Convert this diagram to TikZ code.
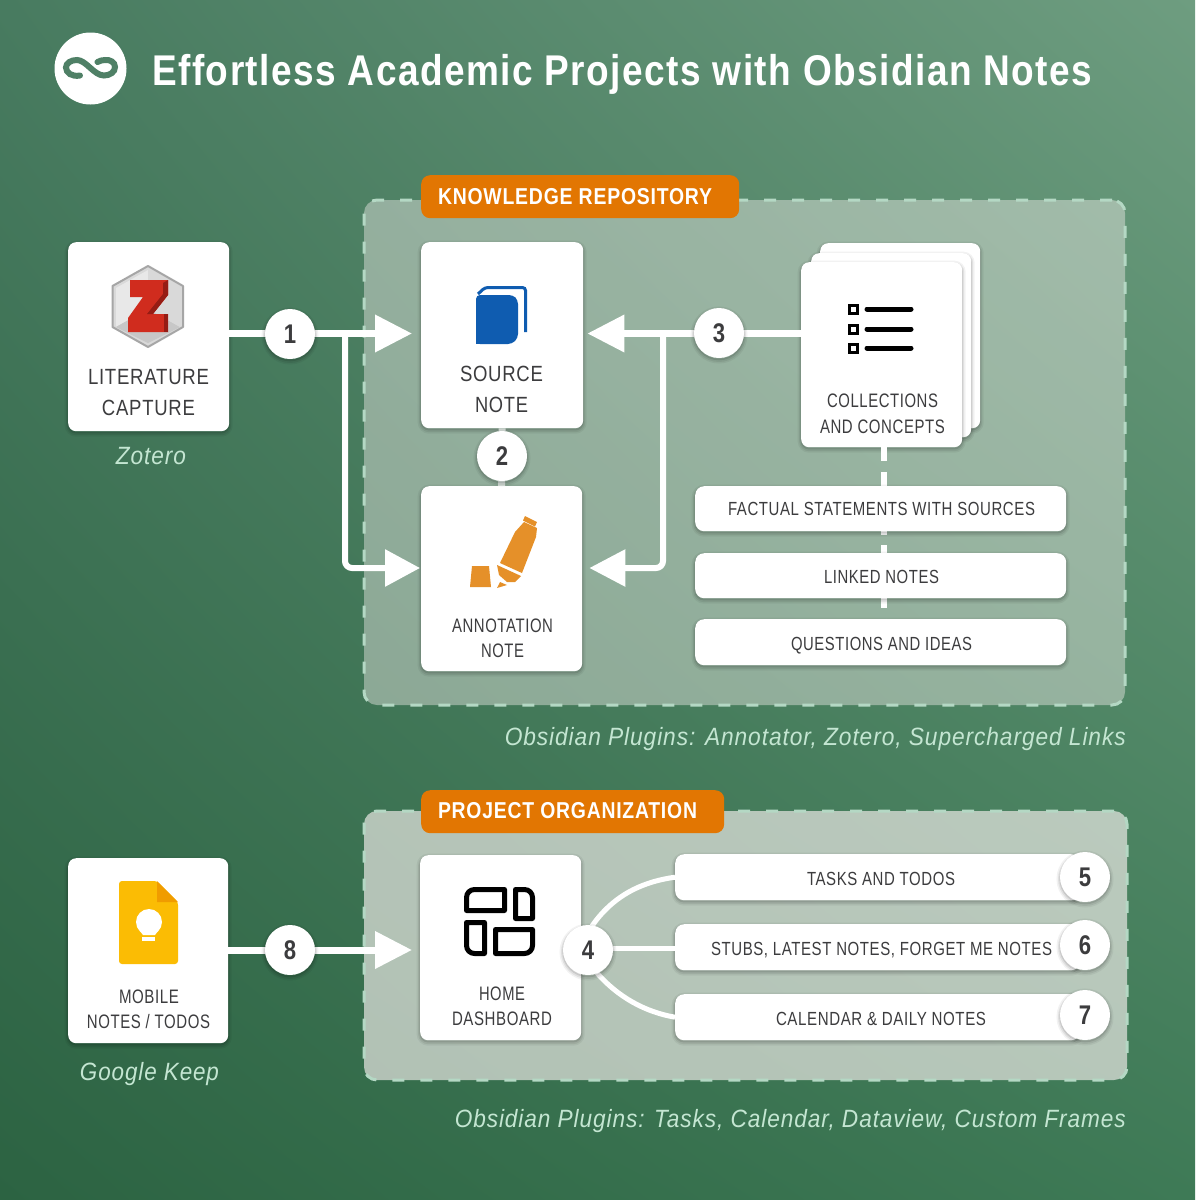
\documentclass[tikz,border=0pt]{standalone}
\usepackage{fontspec}
\setmainfont{Liberation Sans}
\usetikzlibrary{arrows.meta,shadings}
\definecolor{txt}{HTML}{3C3C3E}
\definecolor{mint}{HTML}{C4E6D2}
\definecolor{dash}{HTML}{B4D8C4}
\definecolor{hdr}{HTML}{E27602}
\definecolor{hl}{HTML}{E59029}
\definecolor{bookb}{HTML}{0F5CB0}
\definecolor{logoc}{HTML}{4F8066}
\definecolor{bgll}{RGB}{44,99,66}
\definecolor{bglr}{RGB}{62,122,86}
\definecolor{bgul}{RGB}{72,123,96}
\definecolor{bgur}{RGB}{110,157,128}
\definecolor{zred}{RGB}{208,44,30}
\definecolor{zdark}{RGB}{150,28,20}
\definecolor{kyel}{RGB}{251,188,4}
\definecolor{kdark}{RGB}{240,156,0}
\definecolor{panelw}{HTML}{FFF6F6}
\newcommand{\fitw}[3]{\fontsize{#2}{#2}\selectfont\addfontfeature{LetterSpace=4}\resizebox{#1pt}{\height}{#3}}
\tikzset{
  softsh/.style={
    preaction={draw=black,draw opacity=.05,line width=7pt,transform canvas={yshift=-2pt}},
    preaction={draw=black,draw opacity=.07,line width=4pt,transform canvas={yshift=-2pt}},
    preaction={draw=black,draw opacity=.10,line width=1.5pt,transform canvas={yshift=-1.5pt}}},
  card/.style={anchor=north west,fill=white,rounded corners=8pt,inner sep=0pt,softsh},
  bar/.style={card,rounded corners=9pt},
  panel/.style={anchor=north west,inner sep=0pt,outer sep=0pt,rounded corners=13pt,fill=panelw,draw=dash,line width=3pt,dash pattern=on 12pt off 16pt},
  head/.style={anchor=north west,inner sep=0pt,rounded corners=9pt,fill=hdr},
  lab/.style={anchor=base,inner sep=0pt,text=txt},
  hlab/.style={anchor=base,inner sep=0pt,text=white,font=\bfseries},
  note/.style={anchor=base,inner sep=0pt,text=mint,font=\itshape},
  num/.style={circle,fill=white,minimum size=50pt,inner sep=0pt,text=txt,font=\fontsize{27}{27}\selectfont\bfseries,softsh},
  flow/.style={draw=white,line width=7pt,
    preaction={draw=black,draw opacity=.18,transform canvas={yshift=-2pt}}},
  branch/.style={flow,line width=6pt,rounded corners=7pt},
  tipped/.style={flow,-{Triangle[length=37pt,width=36pt]}},
  thin/.style={draw=white,line width=5pt,preaction={draw=black,draw opacity=.15,transform canvas={yshift=-1.5pt}}},
}
\newcommand{\numt}[1]{\scalebox{.82}[1]{#1}}
\begin{document}
\begin{tikzpicture}[x=1pt,y=-1pt]
\useasboundingbox (0,0) rectangle (1195,1200);
\shade[shading=bilinear interpolation,lower left=bgll,lower right=bglr,upper left=bgul,upper right=bgur] (0,0) rectangle (1195,1200);

% logo
\node[circle,fill=white,minimum size=72pt,inner sep=0pt] (logo) at (90.5,68.5) {};
\draw[logoc,line width=6pt,line cap=round] (80,75.5) .. controls (72,77) and (66,73) .. (66,67.5) .. controls (66,63) and (71,60) .. (77,60) .. controls (86,60) and (94,75.5) .. (104,75.5) .. controls (110,75.5) and (115,72) .. (115,67) .. controls (115,62) and (110,59.5) .. (105,60) .. controls (102,60.3) and (100,60.5) .. (97.5,62);
\node[hlab,anchor=base west] (title) at (152,85) {\fitw{940}{43}{Effortless Academic Projects with Obsidian Notes}};

% panels
\node[panel,fill opacity=.4,minimum width=761pt,minimum height=505pt] (repo) at (364,200) {};
\node[panel,fill opacity=.62,minimum width=763pt,minimum height=269pt] (proj) at (364,811) {};
\node[head,minimum width=318pt,minimum height=43pt] (hrepo) at (421,175) {};
\node[head,minimum width=303pt,minimum height=43pt] (hproj) at (421,790) {};
\node[hlab] (threpo) at (575,204) {\fitw{274}{23}{KNOWLEDGE REPOSITORY}};
\node[hlab] (thproj) at (567.5,818) {\fitw{259}{23}{PROJECT ORGANIZATION}};

% boxes
\node[card,minimum width=161pt,minimum height=189pt] (lit) at (68,242) {};
\node[card,minimum width=162pt,minimum height=186pt] (source) at (421,242) {};
\node[card,minimum width=161pt,minimum height=185pt] (annot) at (421,486) {};
\node[card,minimum width=160pt,minimum height=185pt] (stackc) at (820,243) {};
\node[card,minimum width=160pt,minimum height=184pt] (stackb) at (811,253) {};
\node[card,minimum width=161pt,minimum height=185pt] (colls) at (801,262) {};
\node[card,minimum width=160pt,minimum height=185pt] (mobile) at (68,858) {};
\node[card,minimum width=161pt,minimum height=185pt] (home) at (420,855) {};

% named junctions
\coordinate (y1) at (0,333.5);
\coordinate (j1) at (345,333.5);
\coordinate (y1b) at (0,568);
\coordinate (j3) at (663,333.5);
\coordinate (d1) at (884,500);
\coordinate (dend) at (884,640);
\coordinate (y8) at (0,950);
\coordinate (c4a) at (592,926);
\coordinate (c4b) at (597,973);
\coordinate (c4c) at (590,948);

% connectors under the bars
\draw[white,line width=6pt,dash pattern=on 14pt off 10.5pt] (d1 |- colls.south) -- (dend);

% bars
\node[bar,minimum width=371pt,minimum height=45pt] (f1) at (695,486) {};
\node[bar,minimum width=371pt,minimum height=45pt] (f2) at (695,553) {};
\node[bar,minimum width=371pt,minimum height=46pt] (f3) at (695,619) {};
\node[bar,minimum width=405pt,minimum height=46pt] (t1) at (675,854) {};
\node[bar,minimum width=405pt,minimum height=46pt] (t2) at (675,924) {};
\node[bar,minimum width=405pt,minimum height=46pt] (t3) at (675,994) {};

% flow connectors
\draw[tipped,shorten >=9pt] (lit.east |- y1) -- (source.west |- y1);
\draw[branch,-{Triangle[length=35pt,width=36pt]},shorten >=1pt] (j1) |- (annot.west |- y1b);
\draw[tipped,shorten >=4pt] (colls.west |- y1) -- (source.east |- y1);
\draw[branch,-{Triangle[length=36pt,width=36pt]},shorten >=7pt] (j3) |- (annot.east |- y1b);
\draw[white,opacity=.65,line width=7pt] (source.south) -- (annot.north);
\draw[tipped,shorten >=8pt] (mobile.east |- y8) -- (home.west |- y8);
\node[num] (n1) at (290,334) {\numt{1}};
\node[num] (n2) at (502,456) {\numt{2}};
\node[num] (n3) at (719,333) {\numt{3}};
\node[num] (n8) at (290,950) {\numt{8}};
\draw[thin] (c4c) -- (t2.west |- c4c);
\draw[thin] (c4a) .. controls (612,897) and (640,882) .. (t1.west);
\draw[thin] (c4b) .. controls (618,997) and (645,1012) .. (t3.west);
\node[num] (n4) at (588,950) {\numt{4}};
\node[num] (n5) at (1085,877) {\numt{5}};
\node[num] (n6) at (1085,945) {\numt{6}};
\node[num] (n7) at (1085,1015) {\numt{7}};

% labels
\node[lab] (a1) at (148.5,384) {\fitw{121}{22}{LITERATURE}};
\node[lab] (a2) at (148.5,415) {\fitw{93}{22}{CAPTURE}};
\node[note] (a3) at (151,464) {\fitw{70}{25}{Zotero}};
\node[lab] (b1) at (501.5,381) {\fitw{83}{22}{SOURCE}};
\node[lab] (b2) at (501.5,412) {\fitw{53}{22}{NOTE}};
\node[lab] (c1) at (502.5,632) {\fitw{101}{19.5}{ANNOTATION}};
\node[lab] (c2) at (502.5,657) {\fitw{43}{19.5}{NOTE}};
\node[lab] (d2) at (882.5,407) {\fitw{111}{19.5}{COLLECTIONS}};
\node[lab] (d3) at (882.5,433) {\fitw{125}{19.5}{AND CONCEPTS}};
\node[lab] (e1) at (881.5,515.5) {\fitw{307}{19}{FACTUAL STATEMENTS WITH SOURCES}};
\node[lab] (e2) at (881.5,583) {\fitw{115}{19}{LINKED NOTES}};
\node[lab] (e3) at (881.5,650) {\fitw{181}{19}{QUESTIONS AND IDEAS}};
\node[note,anchor=base east] (e4) at (1126,745) {\fitw{621}{25}{Obsidian Plugins: Annotator, Zotero, Supercharged Links}};
\node[lab] (g1) at (149,1003) {\fitw{60}{19.5}{MOBILE}};
\node[lab] (g2) at (148.5,1028) {\fitw{123}{19.5}{NOTES / TODOS}};
\node[note] (g3) at (149.5,1080) {\fitw{139}{25}{Google Keep}};
\node[lab] (h1) at (502,1000) {\fitw{46}{19.5}{HOME}};
\node[lab] (h2) at (502,1025) {\fitw{100}{19.5}{DASHBOARD}};
\node[lab] (i1) at (881,885.5) {\fitw{148}{19}{TASKS AND TODOS}};
\node[lab] (i2) at (881.5,955.5) {\fitw{341}{19}{STUBS, LATEST NOTES, FORGET ME NOTES}};
\node[lab] (i3) at (881,1025.5) {\fitw{210}{19}{CALENDAR \& DAILY NOTES}};
\node[note,anchor=base east] (i4) at (1126,1127) {\fitw{671}{25}{Obsidian Plugins: Tasks, Calendar, Dataview, Custom Frames}};

% Zotero icon
\fill[white!85!black,draw=black!35,line width=2pt,line join=round] (148,266) -- (183,286) -- (183,327) -- (148,347) -- (112.5,327) -- (112.5,286) -- cycle;
\fill[white!91!black] (148,270) -- (148,309) -- (116,327) -- (116,288) -- cycle;
\fill[white!78!black] (148,309) -- (180,327) -- (148,343) -- (116,327) -- cycle;
\fill[white!85!black] (148,270) -- (180,288) -- (180,327) -- (148,309) -- cycle;
\fill[zred] (130,280) -- (168,280) -- (168,295) -- (153,314) -- (168,314) -- (168,332) -- (128,332) -- (128,318) -- (143,297) -- (130,297) -- cycle;
\fill[zdark] (168,280) -- (168,295) -- (153,314) -- (147,314) -- (163,294) -- (163,283) -- cycle;
\fill[zdark] (164,314) -- (168,314) -- (168,332) -- (164,332) -- cycle;

% book
\draw[bookb,line width=3pt,rounded corners=3pt] (478,294) -- (485,287.5) -- (525.5,287.5) -- (525.5,332);
\fill[bookb,rounded corners=4pt] (476,295) -- (476,344) -- (512,344) -- (518,338) -- (518,300) -- (513,295) -- cycle;
\fill[bookb] (476,330) rectangle (495,344);

% highlighter
\fill[hl] (525,516) -- (537,522) -- (535,526.5) -- (523,520.5) -- cycle;
\fill[hl] (524,522) -- (537,528) -- (536,537) -- (522,573) -- (500,563) -- (515,532) -- cycle;
\fill[hl] (497,565) -- (521,576) -- (515,582) -- (507,582) -- (499,575) -- cycle;
\fill[hl] (500,582) -- (507,585) -- (497,588) -- cycle;
\fill[hl] (472,566) -- (489,566) -- (491,587) -- (470,587) -- cycle;

% list icon
\foreach \yy in {309,329,348}{
  \draw[black,line width=3pt] (849.5,\yy-4) rectangle (857.5,\yy+4);
  \draw[black,line width=5pt,line cap=round] (867,\yy) -- (911,\yy);
}

% keep icon
\fill[kyel,rounded corners=3pt] (119,881) -- (157,881) -- (178,902) -- (178,964) -- (119,964) -- cycle;
\fill[kdark] (157,881) -- (178,902) -- (157,902) -- cycle;
\fill[white] (149,922) circle (13pt);
\fill[white] (140,931) -- (158,931) -- (155,935) -- (143,935) -- cycle;
\fill[white] (142,937) rectangle (155,941);

% dashboard icon
\begin{scope}[black,line width=5pt,line join=round]
\draw (466.5,910.5) [rounded corners=8pt]-- (466.5,889.5) [sharp corners]-- (504.5,889.5) -- (504.5,910.5) -- cycle;
\draw (515.5,889.5) [rounded corners=8pt]-- (532.5,889.5) [sharp corners]-- (532.5,918.5) -- (515.5,918.5) -- cycle;
\draw (466.5,922.5) -- (484.5,922.5) -- (484.5,953.5) [rounded corners=8pt]-- (466.5,953.5) [sharp corners]-- cycle;
\draw (495.5,929.5) -- (532.5,929.5) [rounded corners=8pt]-- (532.5,953.5) [sharp corners]-- (495.5,953.5) -- cycle;
\end{scope}
\end{tikzpicture}
\end{document}
